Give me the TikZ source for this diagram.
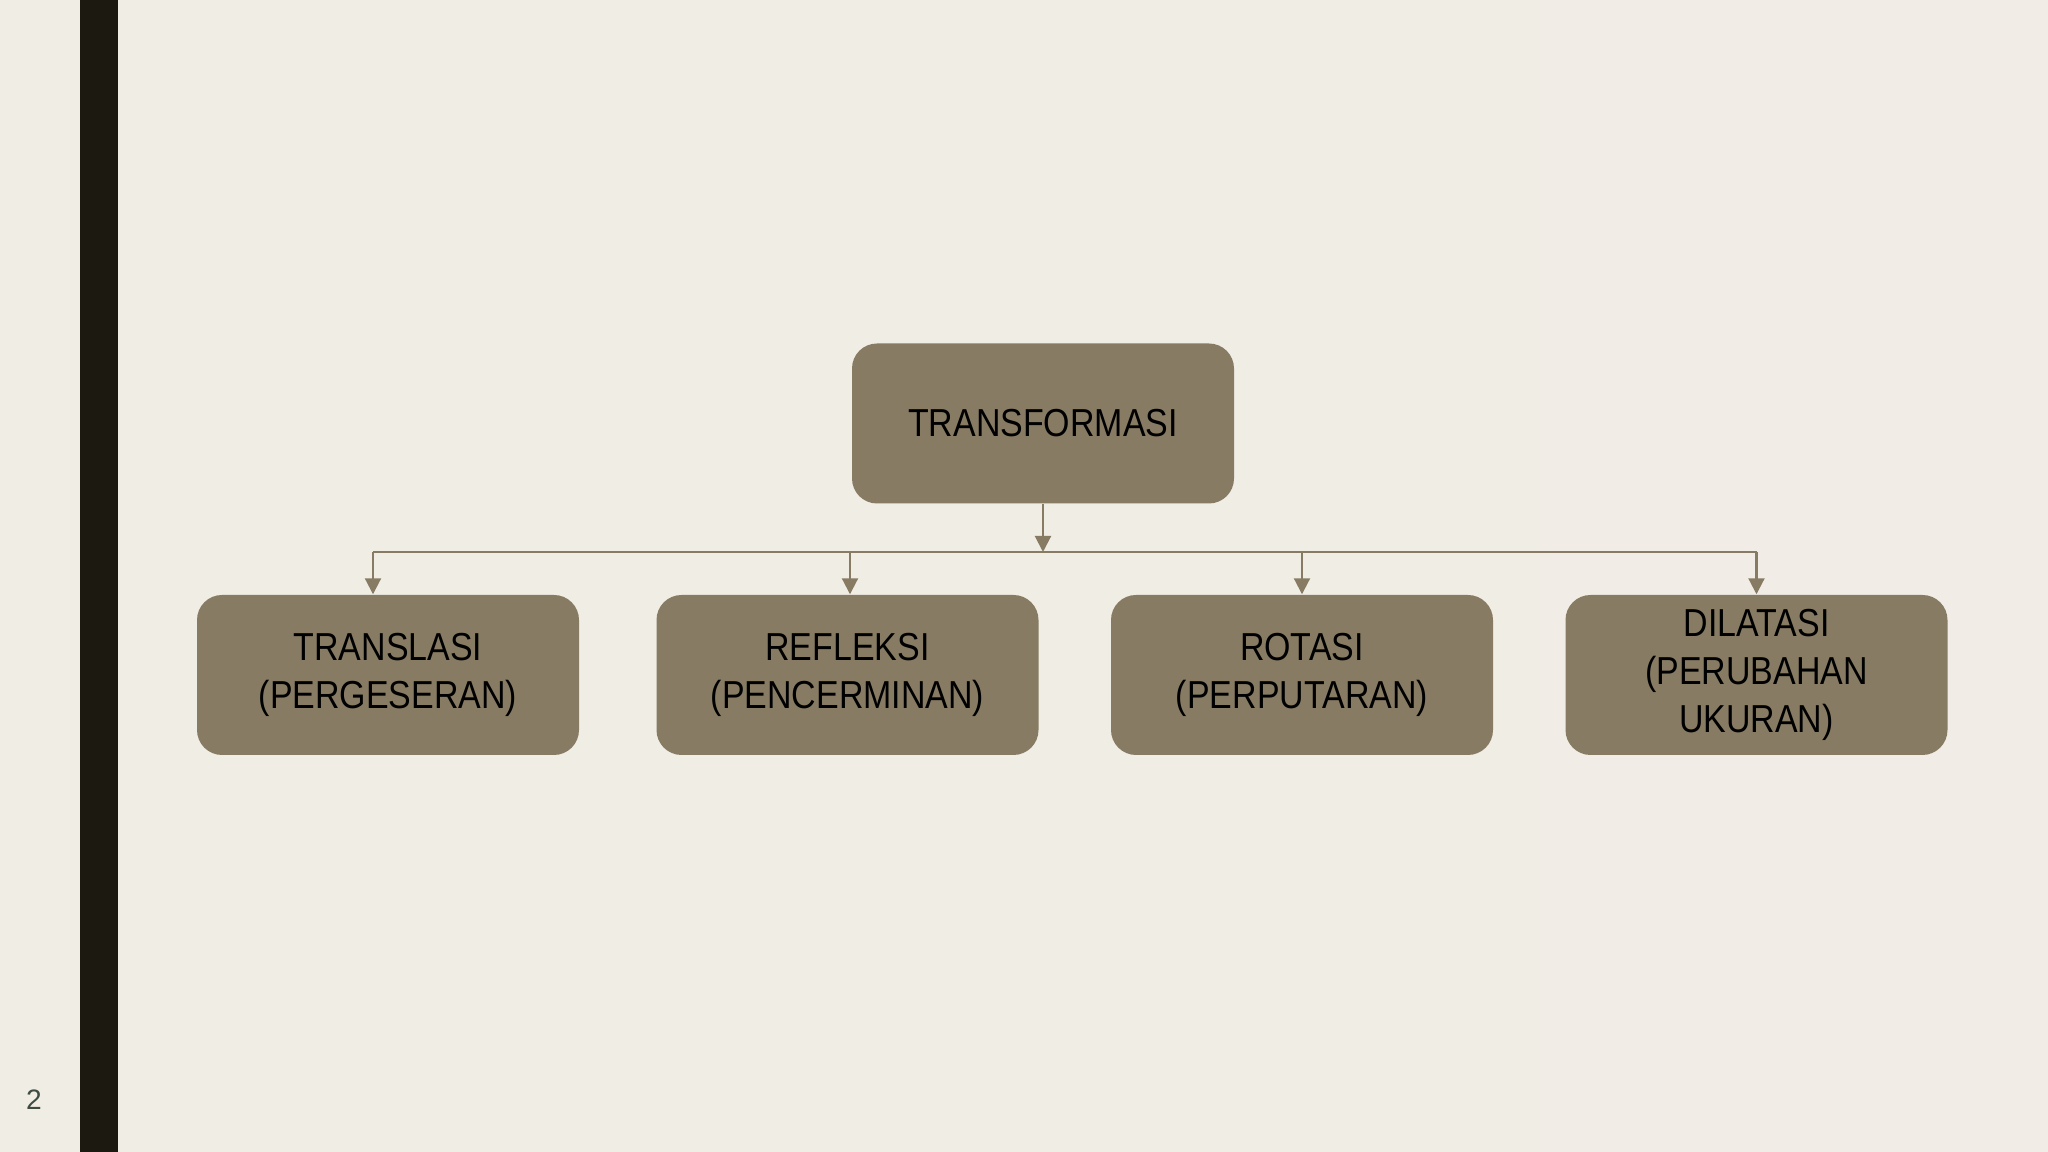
\documentclass[tikz,border=0pt]{standalone}
\usepackage{fontspec}
\setmainfont{Liberation Sans}
\newfontfamily\boxfont{Liberation Sans}[FakeStretch=0.87]
\usepackage{tikz}
\usetikzlibrary{arrows.meta}
\definecolor{slidebg}{RGB}{239,237,228}
\definecolor{slidebgr}{RGB}{241,237,230}
\definecolor{boxfill}{RGB}{135,123,99}
\definecolor{barcol}{RGB}{28,26,16}
\definecolor{numcol}{RGB}{62,76,66}

\begin{document}
\begin{tikzpicture}[
	box/.style={fill=boxfill, rounded corners=2.5mm, minimum width=3.82cm, minimum height=1.6cm, align=center, inner sep=0pt, font=\boxfont\fontsize{11.1}{13.6}\selectfont},
	link/.style={draw=boxfill, line width=0.6pt, -{Triangle[length=1.6mm,width=1.6mm]}}]
	\useasboundingbox (0,0) rectangle (20.48,11.52);
	\shade[left color=slidebg, right color=slidebgr] (0,0) rectangle (20.48,11.52);
	\fill[barcol] (.80,0) rectangle (1.18,11.52);
	\node[text=numcol, font=\fontsize{8}{10}\selectfont] (page) at (.34,.52) {2};
	\node[box] (trans) at (10.43,7.285) {TRANSFORMASI};
	\node[box] (trl) at (3.88,4.77) {TRANSLASI\\(PERGESERAN)};
	\node[box] (ref) at (8.475,4.77) {REFLEKSI\\(PENCERMINAN)};
	\node[box] (rot) at (13.02,4.77) {ROTASI\\(PERPUTARAN)};
	\node[box] (dil) at (17.565,4.77) {DILATASI\\(PERUBAHAN\\UKURAN)};
	\coordinate (bus) at (10.43,6.0);
	\draw[draw=boxfill, line width=0.6pt] ([xshift=-1.5mm]trl.north |- bus) -- (dil.north |- bus);
	\draw[link] (trans.south) -- (bus);
	\draw[link] ([xshift=-1.5mm]trl.north |- bus) -- ([xshift=-1.5mm]trl.north);
	\draw[link] ([xshift=.25mm]ref.north |- bus) -- ([xshift=.25mm]ref.north);
	\draw[link] (rot.north |- bus) -- (rot.north);
	\draw[link] (dil.north |- bus) -- (dil.north);
\end{tikzpicture}
\end{document}
